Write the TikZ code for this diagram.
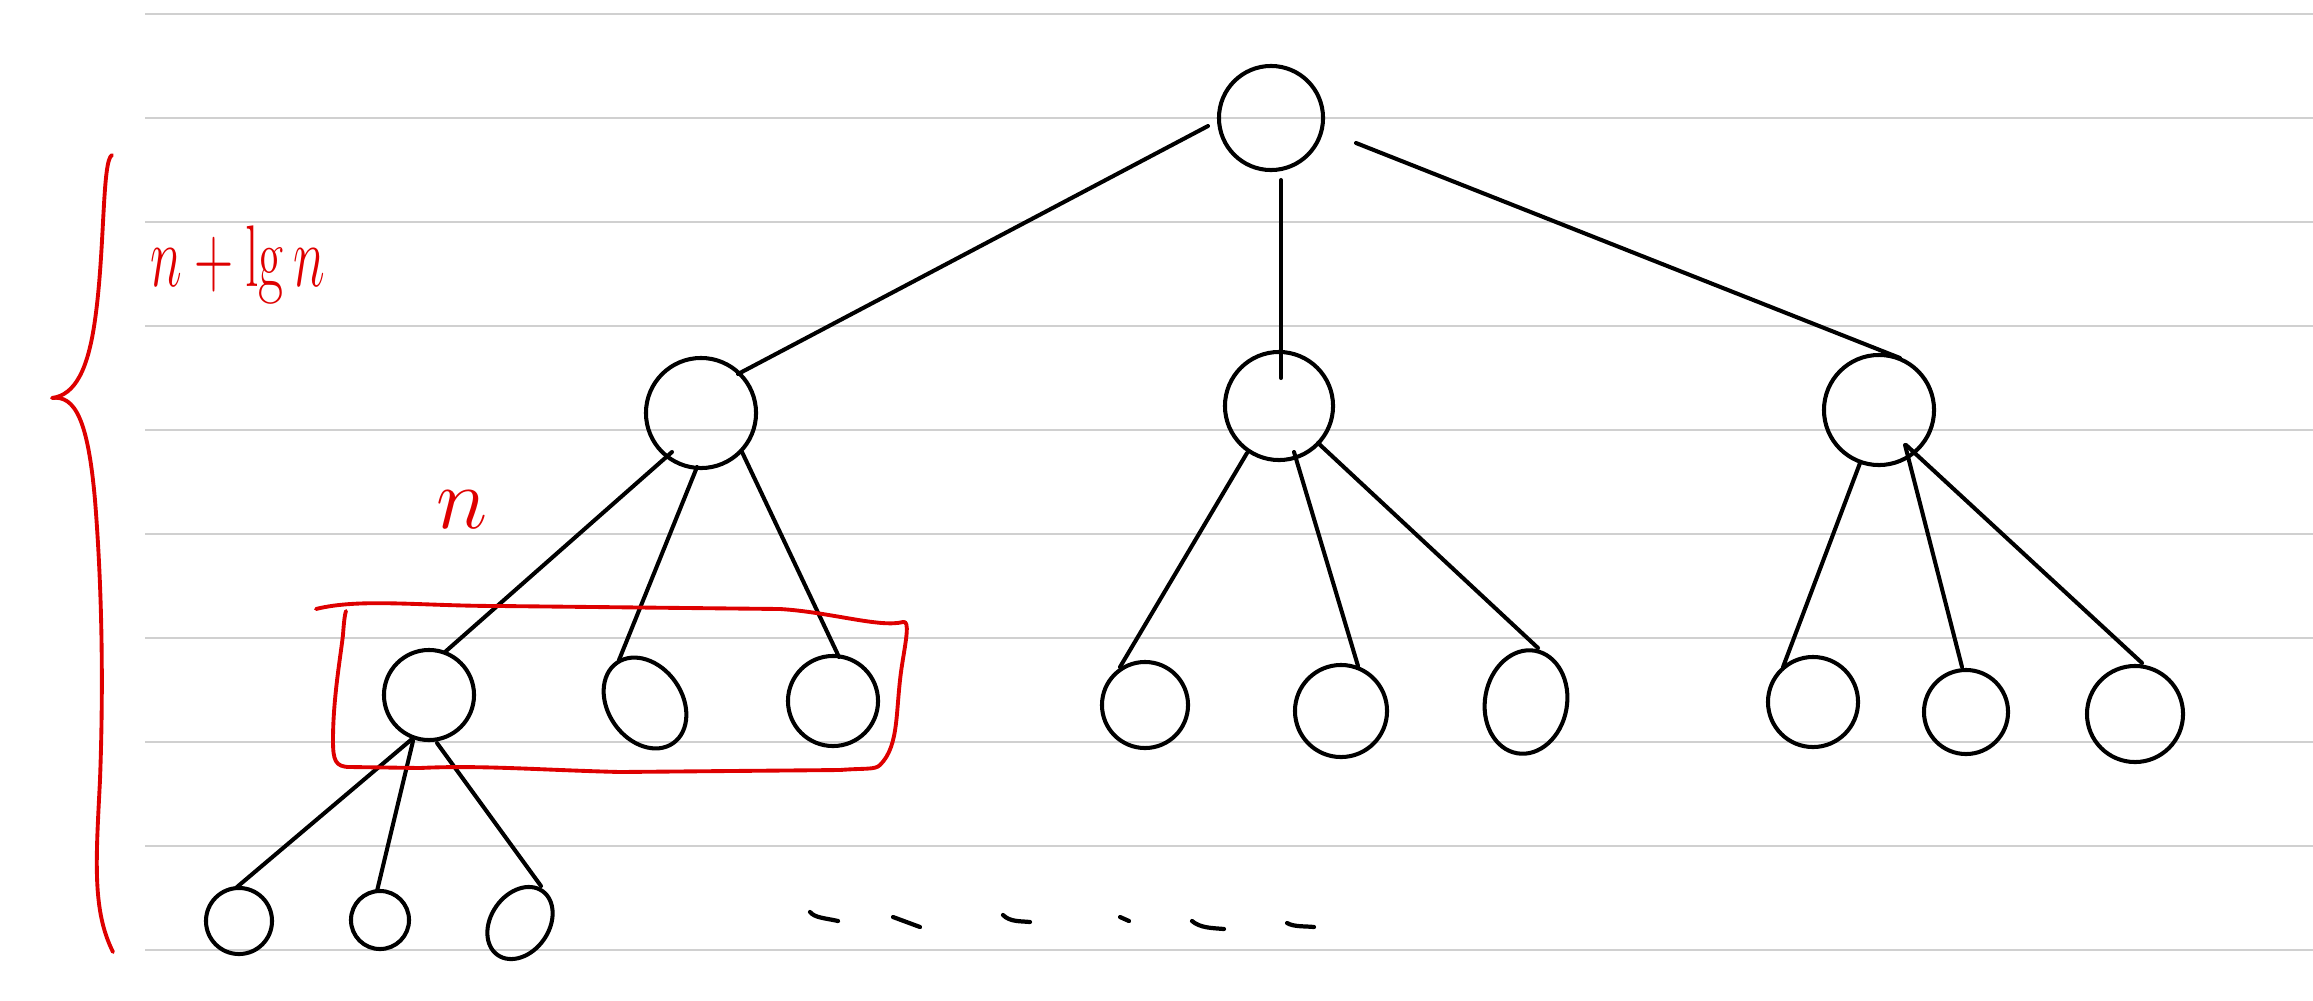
\documentclass[tikz,border=0pt]{standalone}
\usetikzlibrary{shapes.geometric,calc}
\definecolor{gridgrey}{RGB}{208,208,208}
\definecolor{pen}{RGB}{222,0,0}
\begin{document}
\begin{tikzpicture}[x=0.01cm,y=-0.01cm,
  vtx/.style={circle,draw=black,line width=1.15pt,inner sep=0pt,minimum size=#1*0.02cm},
  ovl/.style={ellipse,draw=black,line width=1.15pt,inner sep=0pt},
  edge/.style={draw=black,line width=1.15pt,line cap=round},
  redpen/.style={draw=pen,line width=1.1pt,line cap=round,line join=round},
  gridline/.style={draw=gridgrey,line width=0.75pt},
  dashmark/.style={draw=black,line width=1.2pt,line cap=round}]
\useasboundingbox (0,0) rectangle (2313,1000);
% ruled lines
\foreach \yy in {14,118,222,326,430,534,638,742,846,950}
  \draw[gridline] (145,\yy) -- (2313,\yy);
% nodes
\node[vtx=52] (r) at (1271,118) {};
\node[vtx=55] (a) at (701,413) {};
\node[vtx=54] (b) at (1279,406) {};
\node[vtx=55] (c) at (1879,410) {};
\node[vtx=45] (a1) at (429,695) {};
\node[ovl,minimum width=0.74cm,minimum height=0.98cm,rotate=35] (a2) at (645,703) {};
\node[vtx=45] (a3) at (833,701) {};
\node[vtx=43] (b1) at (1145,705) {};
\node[vtx=46] (b2) at (1341,711) {};
\node[ovl,minimum width=0.82cm,minimum height=1.04cm,rotate=-10] (b3) at (1526,702) {};
\node[vtx=45] (c1) at (1813,702) {};
\node[vtx=42] (c2) at (1966,712) {};
\node[vtx=48] (c3) at (2135,714) {};
\node[vtx=33] (d1) at (239,921) {};
\node[vtx=29] (d2) at (380,920) {};
\node[ovl,minimum width=0.58cm,minimum height=0.78cm,rotate=-35] (d3) at (520,923) {};
% edges (hand-drawn end points, given relative to the named nodes)
\draw[edge] ($(r)+(-63,8)$) -- ($(a)+(37,-39)$);
\draw[edge] ($(r)+(10,62)$) -- ($(b)+(2,-28)$);
\draw[edge] ($(r)+(85,25)$) -- ($(c)+(21,-52)$);
\draw[edge] ($(a)+(-29,39)$) -- ($(a1)+(16,-43)$);
\draw[edge] ($(a)+(-4,54)$) -- ($(a2)+(-26,-43)$);
\draw[edge] ($(a)+(41,39)$) -- ($(a3)+(6,-44)$);
\draw[edge] ($(b)+(-32,47)$) -- ($(b1)+(-25,-38)$);
\draw[edge] ($(b)+(15,46)$) -- ($(b2)+(17,-45)$);
\draw[edge] ($(b)+(39,37)$) -- ($(b3)+(12,-54)$);
\draw[edge] ($(c)+(-19,53)$) -- ($(c1)+(-30,-35)$);
\draw[edge] ($(c)+(26,35)$) -- ($(c2)+(-4,-45)$);
\draw[edge] ($(c)+(27,35)$) -- ($(c3)+(7,-51)$);
\draw[edge] ($(a1)+(-17,44)$) -- ($(d1)+(-2,-34)$);
\draw[edge] ($(a1)+(-16,46)$) -- ($(d2)+(-3,-29)$);
\draw[edge] ($(a1)+(8,48)$) -- ($(d3)+(21,-37)$);
% dashes
\draw[dashmark] (810,912) .. controls (815,918) and (825,918) .. (838,921);
\draw[dashmark] (893,917) -- (920,927);
\draw[dashmark] (1003,915) .. controls (1010,922) and (1020,921) .. (1030,922);
\draw[dashmark] (1120,917) -- (1129,921);
\draw[dashmark] (1192,921) .. controls (1200,928) and (1212,928) .. (1224,929);
\draw[dashmark] (1287,923) .. controls (1294,927) and (1304,926) .. (1314,927);
% red group box
\draw[redpen] (316,609) .. controls (360,598) and (420,606) .. (500,606) -- (780,609)
  .. controls (830,612) and (880,628) .. (903,622) .. controls (910,620) and (906,640) .. (902,665)
  .. controls (895,710) and (900,745) .. (880,765) .. controls (875,770) and (865,768) .. (840,770)
  -- (620,772) .. controls (540,770) and (480,765) .. (420,768) -- (350,767)
  .. controls (335,767) and (333,760) .. (333,740) .. controls (333,700) and (340,660) .. (343,635)
  .. controls (344,620) and (345,614) .. (346,611);
% red brace
\draw[redpen] (112,155) .. controls (102,160) and (105,250) .. (95,320)
  .. controls (88,370) and (75,395) .. (52,398)
  .. controls (75,395) and (88,420) .. (95,500)
  .. controls (103,600) and (103,700) .. (100,780)
  .. controls (96,860) and (92,910) .. (113,952);
% red labels
\node[text=pen,font=\fontsize{24}{28}\selectfont,xscale=0.62,inner sep=0pt] (lbl) at (238,265) {$n+\lg n$};
\node[text=pen,font=\fontsize{28}{32}\selectfont,inner sep=0pt] (nlbl) at (462,510) {$n$};
\end{tikzpicture}
\end{document}
